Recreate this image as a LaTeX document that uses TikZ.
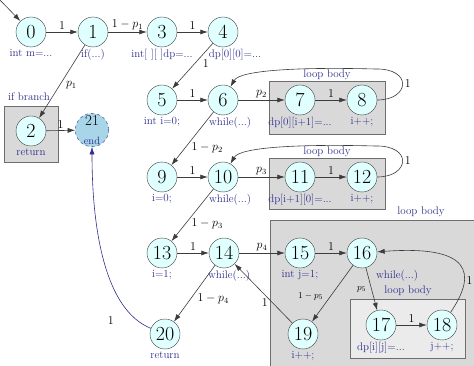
\documentclass[tikz,border=0pt]{standalone}
\usepackage{tikz}
\usetikzlibrary{arrows.meta,positioning}

\definecolor{nodefill}{HTML}{E0FFFF}
\definecolor{codeblue}{HTML}{2E2E8C}
\definecolor{endfill}{HTML}{A8D5E8}
\definecolor{boxfill}{HTML}{D9D9D9}
\definecolor{innerfill}{HTML}{EBEBEB}
\definecolor{boxdraw}{HTML}{6E6E6E}
\definecolor{linecol}{HTML}{3C3C3C}

\begin{document}
\begin{tikzpicture}[
  x=1pt, y=-1pt,
  node distance=1pt,
  state/.style  ={circle, draw=linecol, fill=nodefill, minimum size=30pt,
                  inner sep=0pt, font=\fontsize{20}{22}\selectfont},
  code/.style   ={text=codeblue, inner sep=1pt, font=\fontsize{11}{12}\selectfont},
  prob/.style   ={inner sep=2pt, font=\fontsize{12}{13}\selectfont},
  probs/.style  ={inner sep=2pt, font=\fontsize{9.5}{11}\selectfont},
  region/.style ={draw=boxdraw, fill=boxfill},
  inner/.style  ={draw=boxdraw, fill=innerfill},
  arr/.style    ={-{Latex[length=7.5pt,width=5pt]}, draw=linecol, semithick},
]
  \clip (0,0) rectangle (474,366);

  % grey regions
  \draw[region] (4,106) rectangle (58,162);
  \draw[region] (269,81) rectangle (385,134);
  \draw[region] (269,158) rectangle (385,209);
  \draw[region] (270,220) rectangle (490,380);
  \draw[inner]  (350,299) rectangle (465,358);
  \node[code] (ifb) at (29,97)   {if branch};
  \node[code] (lb1) at (327,75)  {loop body};
  \node[code] (lb2) at (327,152) {loop body};
  \node[code] (lb3) at (421,212) {loop body};
  \node[code] (lb4) at (408,291) {loop body};

  % states
  \coordinate (in) at (-2,-2);
  \node[state] (s0)  at (31,32)   {0};
  \node[state] (s1)  at (93,32)   {1};
  \node[state] (s3)  at (162,32)  {3};
  \node[state] (s4)  at (223,32)  {4};
  \node[state] (s2)  at (31,131)  {2};
  \node[state, dashed, draw=codeblue, fill=endfill, align=center] (s21) at (92,130)
    {{\fontsize{15}{15}\selectfont 21}\\[-3pt]{\fontsize{10.5}{10.5}\selectfont\color{codeblue}end}};
  \node[state] (s5)  at (162,100) {5};
  \node[state] (s6)  at (223,100) {6};
  \node[state] (s7)  at (300,100) {7};
  \node[state] (s8)  at (362,100) {8};
  \node[state] (s9)  at (162,177) {9};
  \node[state] (s10) at (223,177) {10};
  \node[state] (s11) at (300,177) {11};
  \node[state] (s12) at (362,177) {12};
  \node[state] (s13) at (162,253) {13};
  \node[state] (s14) at (224,253) {14};
  \node[state] (s15) at (300,253) {15};
  \node[state] (s16) at (362,253) {16};
  \node[state] (s17) at (381,325) {17};
  \node[state] (s18) at (442,325) {18};
  \node[state] (s19) at (303,334) {19};
  \node[state] (s20) at (165,334) {20};

  % statements
  \node[code, below=1pt of s0]              (c0)  {int m=...};
  \node[code, below=1pt of s1]              (c1)  {if(...)};
  \node[code, below=1pt of s3]              (c3)  {int[ ][ ]dp=...};
  \node[code, below=1pt of s4, xshift=12pt] (c4)  {dp[0][0]=...};
  \node[code, below=1pt of s2]              (c2)  {return};
  \node[code, below=1pt of s5]              (c5)  {int i=0;};
  \node[code, below=1pt of s6, xshift=7pt]  (c6)  {while(...)};
  \node[code, below=1pt of s7]              (c7)  {dp[0][i+1]=...};
  \node[code, below=1pt of s8]              (c8)  {i++;};
  \node[code, below=1pt of s9]              (c9)  {i=0;};
  \node[code, below=1pt of s10, xshift=7pt] (c10) {while(...)};
  \node[code, below=1pt of s11]             (c11) {dp[i+1][0]=...};
  \node[code, below=1pt of s12]             (c12) {i++;};
  \node[code, below=1pt of s13]             (c13) {i=1;};
  \node[code, below=1pt of s14, xshift=5pt] (c14) {while(...)};
  \node[code, below=1pt of s15]             (c15) {int j=1;};
  \node[code] (c16) at (397,276)            {while(...)};
  \node[code, below=1pt of s17]             (c17) {dp[i][j]=...};
  \node[code, below=1pt of s18]             (c18) {j++;};
  \node[code, below=1pt of s19]             (c19) {i++;};
  \node[code, below=1pt of s20]             (c20) {return};

  % transitions
  \coordinate (bend6)  at (375,69);
  \coordinate (bend10) at (375,146);
  \draw[arr] (in)  -- (s0);
  \draw[arr] (s0)  -- node[prob, above] {$1$} (s1);
  \draw[arr] (s1)  -- node[prob, above] {$1-p_1$} (s3);
  \draw[arr] (s3)  -- node[prob, above] {$1$} (s4);
  \draw[arr] (s1)  -- node[prob, pos=.55, right=4pt] {$p_1$} (s2);
  \draw[arr] (s2)  -- node[prob, above] {$1$} (s21);
  \draw[arr] (s4)  -- node[prob, pos=.45, right=6pt] {$1$} (s5);
  \draw[arr] (s5)  -- node[prob, above] {$1$} (s6);
  \draw[arr] (s6)  -- node[prob, above] {$p_2$} (s7);
  \draw[arr] (s7)  -- node[prob, above] {$1$} (s8);
  \draw[arr] (s8.east) .. controls (410,100) and (413,68) .. node[prob, pos=.5, right=0pt] {$1$} (bend6)
                       .. controls (300,67) and (240,70) .. (s6);
  \draw[arr] (s6)  -- node[prob, pos=.67, right=4pt] {$1-p_2$} (s9);
  \draw[arr] (s9)  -- node[prob, above] {$1$} (s10);
  \draw[arr] (s10) -- node[prob, above] {$p_3$} (s11);
  \draw[arr] (s11) -- node[prob, above] {$1$} (s12);
  \draw[arr] (s12.east) .. controls (410,177) and (413,145) .. node[prob, pos=.5, right=0pt] {$1$} (bend10)
                        .. controls (300,144) and (240,147) .. (s10);
  \draw[arr] (s10) -- node[prob, pos=.67, right=4pt] {$1-p_3$} (s13);
  \draw[arr] (s13) -- node[prob, above] {$1$} (s14);
  \draw[arr] (s14) -- node[prob, above] {$p_4$} (s15);
  \draw[arr] (s15) -- node[prob, above] {$1$} (s16);
  \draw[arr] (s16) -- node[probs, pos=.55, left=5pt] {$1-p_5$} (s19);
  \draw[arr] (s16) -- node[probs, pos=.5, left=3pt] {$p_5$} (s17);
  \draw[arr] (s17) -- node[prob, above] {$1$} (s18);
  \draw[arr] (s18) .. controls (478,272) and (470,245) .. node[prob, pos=.3, right=0pt] {$1$} (s16);
  \draw[arr] (s19) -- node[prob, pos=.35, left=2pt] {$1$} (s14);
  \draw[arr] (s14) -- node[prob, pos=.6, right=5pt] {$1-p_4$} (s20);
  \draw[arr, draw=codeblue] (s20) .. controls (105,310) and (92,230) .. node[prob, pos=.1, left=22pt] {$1$} (s21);
\end{tikzpicture}
\end{document}
